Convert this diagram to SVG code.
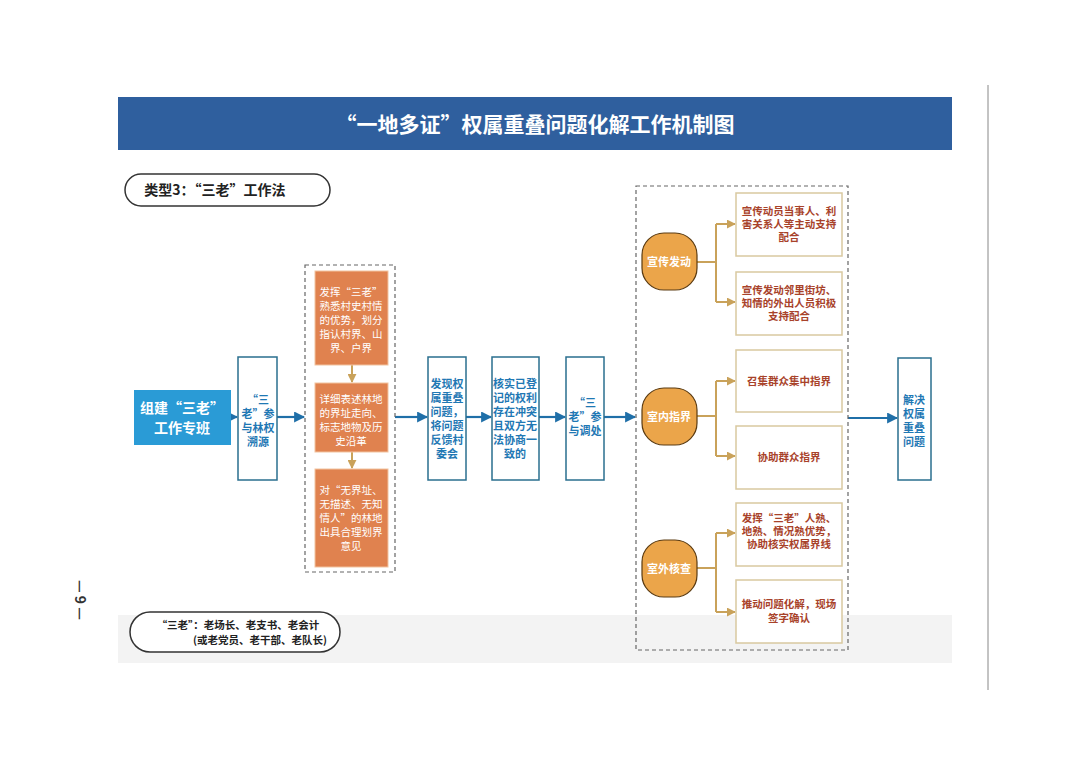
<svg xmlns="http://www.w3.org/2000/svg" width="1080" height="763" viewBox="0 0 1080 763">
<defs>
<style>
text{font-family:"Noto Sans CJK SC","Liberation Sans",sans-serif;font-weight:bold;text-anchor:middle}
.bx{fill:#fff;stroke:#2a6f8f;stroke-width:1.5}
.bt{fill:#1f78b4;font-size:11px}
.or{fill:#e0824f;stroke:#f2c3a0;stroke-width:1}
.ot{fill:#fff;font-size:10.5px;font-weight:normal}
.ov{fill:#eba54a;stroke:#5a3a10;stroke-width:1.2}
.rb{fill:#fff;stroke:#d9c9a0;stroke-width:1.5}
.rt{fill:#a8422a;font-size:10.5px}
.dash{fill:none;stroke:#666;stroke-width:1.2;stroke-dasharray:4,3}
.bl{stroke:#1f6fa8;stroke-width:2.2;fill:none;marker-end:url(#ab)}
.gl{stroke:#c9a25a;stroke-width:2;fill:none}
</style>
<marker id="ab" viewBox="0 0 10 10" refX="9" refY="5" markerWidth="5" markerHeight="5" orient="auto"><path d="M0,0L10,5L0,10z" fill="#1f6fa8"/></marker>
<marker id="ag" viewBox="0 0 10 10" refX="9" refY="5" markerWidth="4.5" markerHeight="4.5" orient="auto"><path d="M0,0L10,5L0,10z" fill="#c9a25a"/></marker>
</defs>
<rect width="1080" height="763" fill="#fff"/>
<line x1="988" y1="85" x2="988" y2="690" stroke="#888" stroke-width="1"/>
<text x="75" y="600" transform="rotate(90 75 600)" font-size="14" fill="#333" font-weight="normal">— 9 —</text>
<g id="title"><rect x="118" y="97" width="834" height="53" fill="#2f5f9e"/><text x="535" y="132" fill="#fff" font-size="21">“一地多证”权属重叠问题化解工作机制图</text></g>
<g id="type"><rect x="125" y="174" width="205" height="32" rx="16" fill="#fff" stroke="#333" stroke-width="1.5"/><text x="215" y="195" font-size="14" fill="#222">类型3：“三老”工作法</text></g>
<rect x="118" y="615" width="834" height="48" fill="#f3f3f3"/>
<g id="connectors">
<path class="bl" d="M231 417H237"/><path class="bl" d="M277 417H304"/><path class="bl" d="M395 417H427"/><path class="bl" d="M466 417H491"/><path class="bl" d="M539 417H565"/><path class="bl" d="M604 417H635"/><path class="bl" d="M848 418H897"/>
<path class="gl" marker-end="url(#ag)" d="M352 365V382"/><path class="gl" marker-end="url(#ag)" d="M352 452V468"/>
<path class="gl" d="M697 262H716M716 224V302"/><path class="gl" marker-end="url(#ag)" d="M716 224H735"/><path class="gl" marker-end="url(#ag)" d="M716 302H735"/>
<path class="gl" d="M697 416H716M716 381V456"/><path class="gl" marker-end="url(#ag)" d="M716 381H735"/><path class="gl" marker-end="url(#ag)" d="M716 456H735"/>
<path class="gl" d="M697 568H716M716 533V612"/><path class="gl" marker-end="url(#ag)" d="M716 533H735"/><path class="gl" marker-end="url(#ag)" d="M716 612H735"/>
</g>
<g id="n1"><rect x="134" y="390" width="97" height="55" fill="#2a9bd6"/><text x="182" y="413" fill="#fff" font-size="14">组建“三老”</text><text x="182" y="433" fill="#fff" font-size="14">工作专班</text></g>
<g id="n2"><rect class="bx" x="238" y="357" width="39" height="123"/><text class="bt" x="258" y="404">“三</text><text class="bt" x="258" y="418">老”参</text><text class="bt" x="258" y="432">与林权</text><text class="bt" x="258" y="446">溯源</text></g>
<rect class="dash" x="305" y="265" width="90" height="307"/>
<g id="o1"><rect class="or" x="315" y="271" width="73" height="94"/><text class="ot" x="351" y="296">发挥“三老”</text><text class="ot" x="351" y="310">熟悉村史村情</text><text class="ot" x="351" y="324">的优势，划分</text><text class="ot" x="351" y="338">指认村界、山</text><text class="ot" x="351" y="352">界、户界</text></g>
<g id="o2"><rect class="or" x="315" y="383" width="73" height="69"/><text class="ot" x="351" y="403">详细表述林地</text><text class="ot" x="351" y="417">的界址走向、</text><text class="ot" x="351" y="431">标志地物及历</text><text class="ot" x="351" y="445">史沿革</text></g>
<g id="o3"><rect class="or" x="315" y="469" width="73" height="98"/><text class="ot" x="351" y="494">对“无界址、</text><text class="ot" x="351" y="508">无描述、无知</text><text class="ot" x="351" y="522">情人”的林地</text><text class="ot" x="351" y="536">出具合理划界</text><text class="ot" x="351" y="550">意见</text></g>
<g id="n3"><rect class="bx" x="428" y="357" width="38" height="123"/><text class="bt" x="447" y="388">发现权</text><text class="bt" x="447" y="402">属重叠</text><text class="bt" x="447" y="416">问题，</text><text class="bt" x="447" y="430">将问题</text><text class="bt" x="447" y="444">反馈村</text><text class="bt" x="447" y="458">委会</text></g>
<g id="n4"><rect class="bx" x="492" y="357" width="47" height="123"/><text class="bt" x="515" y="388">核实已登</text><text class="bt" x="515" y="402">记的权利</text><text class="bt" x="515" y="416">存在冲突</text><text class="bt" x="515" y="430">且双方无</text><text class="bt" x="515" y="444">法协商一</text><text class="bt" x="515" y="458">致的</text></g>
<g id="n5"><rect class="bx" x="566" y="357" width="38" height="123"/><text class="bt" x="585" y="407">“三</text><text class="bt" x="585" y="421">老”参</text><text class="bt" x="585" y="435">与调处</text></g>
<rect class="dash" x="636" y="186" width="212" height="464"/>
<g id="v1"><rect class="ov" x="642" y="233" width="55" height="57" rx="22"/><text x="669" y="266" fill="#fff" font-size="11" font-weight="normal">宣传发动</text></g>
<g id="v2"><rect class="ov" x="642" y="388" width="55" height="57" rx="22"/><text x="669" y="421" fill="#fff" font-size="11" font-weight="normal">室内指界</text></g>
<g id="v3"><rect class="ov" x="642" y="540" width="55" height="57" rx="22"/><text x="669" y="573" fill="#fff" font-size="11" font-weight="normal">室外核查</text></g>
<g id="r1"><rect class="rb" x="736" y="193" width="106" height="63"/><text class="rt" x="789" y="215">宣传动员当事人、利</text><text class="rt" x="789" y="228">害关系人等主动支持</text><text class="rt" x="789" y="241">配合</text></g>
<g id="r2"><rect class="rb" x="736" y="272" width="106" height="63"/><text class="rt" x="789" y="294">宣传发动邻里街坊、</text><text class="rt" x="789" y="307">知情的外出人员积极</text><text class="rt" x="789" y="320">支持配合</text></g>
<g id="r3"><rect class="rb" x="736" y="350" width="106" height="62"/><text class="rt" x="789" y="385">召集群众集中指界</text></g>
<g id="r4"><rect class="rb" x="736" y="426" width="106" height="63"/><text class="rt" x="789" y="461">协助群众指界</text></g>
<g id="r5"><rect class="rb" x="736" y="503" width="106" height="63"/><text class="rt" x="789" y="522">发挥“三老”人熟、</text><text class="rt" x="789" y="535">地熟、情况熟优势，</text><text class="rt" x="789" y="548">协助核实权属界线</text></g>
<g id="r6"><rect class="rb" x="736" y="580" width="106" height="63"/><text class="rt" x="789" y="608">推动问题化解，现场</text><text class="rt" x="789" y="622">签字确认</text></g>
<g id="n6"><rect class="bx" x="898" y="358" width="33" height="122"/><text class="bt" x="914" y="404">解决</text><text class="bt" x="914" y="418">权属</text><text class="bt" x="914" y="432">重叠</text><text class="bt" x="914" y="446">问题</text></g>
<g id="note"><rect x="130" y="612" width="210" height="40" rx="20" fill="#fff" stroke="#333" stroke-width="1.5"/><text x="238" y="629" font-size="10.5" fill="#222">“三老”：老场长、老支书、老会计</text><text x="260" y="644" font-size="10.5" fill="#222">(或老党员、老干部、老队长)</text></g>
</svg>
